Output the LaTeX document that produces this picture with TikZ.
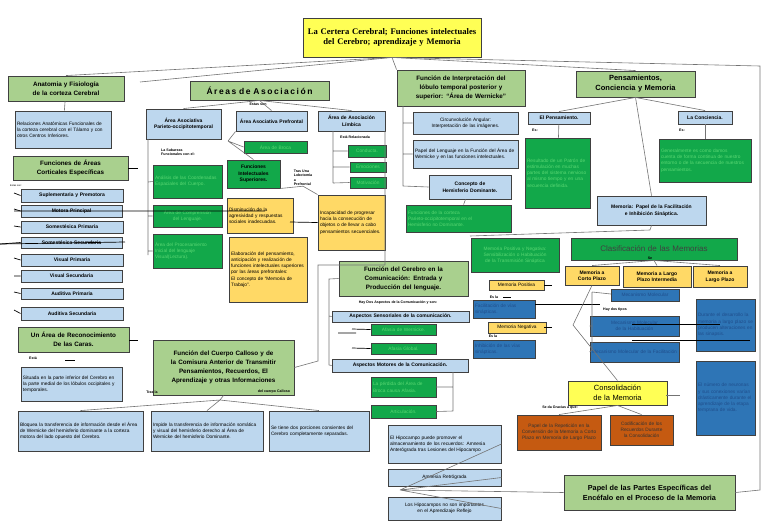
\documentclass[tikz,border=0pt]{standalone}
\usepackage{fontspec}
\setmainfont{Liberation Sans}
\newfontfamily\ttlfont{Liberation Serif}
\newfontfamily\spfont[LetterSpace=18]{Liberation Sans}
\begin{document}
\hyphenpenalty=10000 \exhyphenpenalty=10000
\definecolor{lg}{HTML}{A9D08E}
\definecolor{dg}{HTML}{12A84A}
\definecolor{tg}{HTML}{5AD873}
\definecolor{lb}{HTML}{BDD7EE}
\definecolor{yl}{HTML}{FFD966}
\definecolor{by}{HTML}{FFFF55}
\definecolor{db}{HTML}{2E75B6}
\definecolor{tb}{HTML}{1F4E8C}
\definecolor{or}{HTML}{C55A11}
\newcommand\bx[7]{\node[box,#6,minimum width={(#4-#2)*1pt},minimum height={(#5-#3)*1pt},text width={(#4-#2-4)*1pt}] (#1) at ({(#2+#4)/2},{(#3+#5)/2}) {#7};}
\begin{tikzpicture}[x=1pt,y=-1pt,
 box/.style={draw=black!75,line width=0.9pt,align=center,inner sep=1pt,font=\fontsize{4.8}{6.2}\selectfont},
 H/.style={fill=lg,font=\fontsize{6.3}{9}\selectfont\bfseries},
 G/.style={fill=dg,text=tg},
 B/.style={fill=lb},
 BB/.style={fill=lb,font=\fontsize{5}{6.5}\selectfont\bfseries},
 Y/.style={fill=yl},
 D/.style={fill=db,text=tb},
 O/.style={fill=or,text=black!80},
 L/.style={align=left},
 ln/.style={draw=black!55,line width=0.6pt},
 lab/.style={font=\fontsize{3.6}{4.5}\selectfont\bfseries,inner sep=0pt}]
\useasboundingbox (0,0) rectangle (768,523);
\bx{t}{303}{18}{481}{57}{fill=by,font=\ttlfont\fontsize{8.6}{10}\selectfont\bfseries}{La Certera Cerebral; Funciones intelectuales del Cerebro; aprendizaje y Memoria}
\bx{anat}{8}{76}{124}{101}{H}{Anatomia y Fisiología de la corteza Cerebral}
\bx{rel}{15}{111}{111}{148}{B,L}{Relaciones Anatómicas Funcionales de la corteza cerebral con el Tálamo y con otros Centros Inferiores.}
\bx{areas}{190}{81}{329}{100}{H,font=\spfont\fontsize{8.5}{10}\selectfont\bfseries}{Áreas de Asociación}
\bx{par}{146}{109}{221}{139}{BB}{Área Asociativa Parieto-occipitotemporal}
\bx{pre}{236}{111}{307}{131}{BB}{Área Asociativa Prefrontal}
\bx{lim}{318}{111}{385}{131}{BB}{Área de Asociación Límbica}
\bx{broca}{244}{141}{307}{153}{G}{Área de Broca}
\bx{cond}{348}{145}{386}{157}{G}{Conducta.}
\bx{emo}{350}{162}{386}{172}{G}{Emociones}
\bx{mot}{350}{177}{386}{188}{G}{Motivación}
\bx{cort}{13}{156}{128}{180}{H}{Funciones de Áreas Corticales Específicas}
\bx{anal}{153}{165}{222}{198}{G,L}{Análisis de las Coordenadas Espaciales del Cuerpo.}
\bx{fis}{227}{160}{280}{188}{G,font=\fontsize{5}{6.5}\selectfont\bfseries,text=black}{Funciones Intelectuales Superiores.}
\bx{comp}{153}{205}{222}{227}{G}{Área de Comprensión del Lenguaje.}
\bx{dism}{227}{198}{293}{233}{Y,L}{Disminución de la agresividad y respuestas sociales inadecuadas.}
\bx{inc}{318}{195}{385}{250}{Y,L}{Incapacidad de progresar hacia la consecución de objetos o de llevar a cabo pensamientos secuenciales.}
\bx{proc}{153}{234}{222}{268}{G,L}{Área del Procesamiento Inicial del lenguaje Visual(Lectura).}
\bx{elab}{229}{237}{307}{302}{Y,L}{Elaboración del pensamiento, anticipación y realización de funciones intelectuales superiores por las áreas prefrontales: El concepto de ``Memoria de Trabajo''.}
\bx{l1}{21}{189}{123}{202}{BB}{Suplementaria y Premotora}
\bx{l2}{21}{205}{122}{217}{BB}{Motora Principal}
\bx{l3}{21}{221}{123}{233}{BB}{Somestésica Primaria}
\bx{l4}{21}{237}{122}{248}{BB}{Somestésica Secundaria}
\bx{l5}{21}{254}{123}{266}{BB}{Visual Primaria}
\bx{l6}{21}{270}{122}{282}{BB}{Visual Secundaria}
\bx{l7}{21}{288}{123}{299}{BB}{Auditiva Primaria}
\bx{l8}{21}{307}{123}{320}{BB}{Auditiva Secundaria}
\bx{caras}{18}{327}{129}{352}{H}{Un Área de Reconocimiento De las Caras.}
\bx{sit}{21}{367}{122}{401}{B,L}{Situada en la parte inferior del Cerebro en la parte medial de los lóbulos occipitales y temporales.}
\bx{call}{153}{340}{294}{395}{H}{Función del Cuerpo Calloso y de la Comisura Anterior de Transmitir Pensamientos, Recuerdos, El Aprendizaje y otras Informaciones}
\bx{bloq}{18}{411}{143}{451}{B,L}{Bloquea la transferencia de información desde el Área de Wernicke del hemisferio dominante a la corteza motora del lado opuesto del Cerebro.}
\bx{imp}{151}{411}{263}{451}{B,L}{Impide la transferencia de información somática y visual del hemisferio derecho al Área de Wernicke del hemisferio Dominante.}
\bx{sep}{269}{411}{369}{451}{B,L}{Se tiene dos porciones consientes del Cerebro completamente separadas.}
\bx{int}{397}{70}{525}{106}{H}{Función de Interpretación del lóbulo temporal posterior y superior: ``Área de Wernicke''}
\bx{circ}{413}{112}{518}{134}{B}{Circunvolución Angular: Interpretación de las imágenes.}
\bx{pap}{413}{140}{518}{168}{B,L}{Papel del Lenguaje en la Función del Área de Wernicke y en las funciones intelectuales.}
\bx{hem}{429}{175}{511}{199}{BB}{Concepto de Hemisferio Dominante.}
\bx{fpo}{406}{205}{511}{232}{G,L}{Funciones de la corteza Parieto-occipitotemporal en el Hemisferio no Dominante.}
\bx{pens}{576}{71}{695}{97}{H,font=\fontsize{7.5}{10}\selectfont\bfseries}{Pensamientos, Conciencia y Memoria}
\bx{elp}{528}{112}{590}{124}{BB}{El Pensamiento.}
\bx{res}{525}{138}{590}{208}{G,L}{Resultado de un Patrón de estimulación en muchas partes del sistema nervioso al mismo tiempo y en una secuencia definida.}
\bx{conc}{678}{111}{732}{124}{BB}{La Conciencia.}
\bx{gen}{659}{139}{751}{182}{G,L}{Generalmente es como damos cuenta de forma continua de nuestro entorno o de la secuencia de nuestros pensamientos.}
\bx{memp}{597}{196}{706}{225}{BB}{Memoria: Papel de la Facilitación e Inhibición Sináptica.}
\bx{mpn}{471}{238}{559}{272}{G}{Memoria Positiva y Negativa: Sensibilización o Habituación de la Transmisión Sináptica}
\bx{clas}{571}{238}{737}{260}{G,text=black!75,font=\fontsize{8}{10}\selectfont}{Clasificación de las Memorias}
\bx{com}{339}{261}{468}{296}{H}{Función del Cerebro en la Comunicación: Entrada y Producción del lenguaje.}
\bx{mpos}{489}{280}{544}{290}{Y}{Memoria Positiva}
\bx{fac}{473}{300}{535}{318}{D,L}{Facilitación de vías sinápticas.}
\bx{mneg}{488}{322}{546}{333}{Y}{Memoria Negativa}
\bx{inh}{473}{340}{535}{358}{D,L}{Inhibición de las vías sinápticas.}
\bx{cp}{565}{266}{619}{285}{Y,font=\fontsize{5}{6.5}\selectfont\bfseries}{Memoria a Corto Plazo}
\bx{lpi}{623}{266}{691}{287}{Y,font=\fontsize{5}{6.5}\selectfont\bfseries}{Memoria a Largo Plazo Intermedia}
\bx{lp}{693}{266}{747}{287}{Y,font=\fontsize{5}{6.5}\selectfont\bfseries}{Memoria a Largo Plazo}
\bx{mm}{611}{289}{679}{301}{D}{Mecanismo Molecular}
\bx{mh}{590}{316}{679}{336}{D}{Mecanismo Molecular de la Habituación}
\bx{mf}{590}{342}{679}{362}{D}{Mecanismo Molecular de la Facilitación}
\bx{dur}{696}{299}{755}{351}{D,L}{Durante el desarrollo la memoria a largo plazo se producen alteraciones en las sinapsis.}
\bx{num}{696}{361}{755}{435}{D,L}{El número de neuronas y sus conexiones varían drásticamente durante el aprendizaje de la etapa temprana de vida.}
\bx{asen}{332}{311}{469}{322}{BB}{Aspectos Sensoriales de la comunicación.}
\bx{afw}{371}{324}{436}{335}{G}{Afasia de Wernicke.}
\bx{afg}{371}{343}{436}{354}{G}{Afasia Global.}
\bx{amot}{332}{359}{468}{372}{BB}{Aspectos Motores de la Comunicación.}
\bx{perd}{371}{377}{436}{397}{G,L}{La pérdida del Área de Broca causa Afasia.}
\bx{art}{371}{405}{436}{418}{G}{Articulación.}
\bx{cons}{568}{381}{667}{405}{fill=by,font=\fontsize{7.5}{10}\selectfont}{Consolidación de la Memoria}
\bx{rep}{517}{415}{601}{450}{O}{Papel de la Repetición en la Conversión de la Memoria a Corto Plazo en Memoria de Largo Plazo}
\bx{cod}{610}{415}{673}{445}{O}{Codificación de los Recuerdos Durante la Consolidación}
\bx{hipo}{388}{425}{501}{463}{B,L}{El Hipocampo puede promover el almacenamiento de los recuerdos: Amnesia Anterógrada tras Lesiones del Hipocampo}
\bx{amr}{388}{469}{501}{486}{B}{Amnesia Retrógrada}
\bx{nohi}{388}{497}{501}{520}{B}{Los Hipocampos no son importantes en el Aprendizaje Reflejo}
\bx{part}{564}{475}{735}{510}{H,font=\fontsize{7.3}{10}\selectfont\bfseries}{Papel de las Partes Específicas del Encéfalo en el Proceso de la Memoria}
% labels
\node[lab] (e1) at (258,104) {Estas son};
\node[lab,align=left] (e2) at (178,152) {La Subareas\\Funcionales con el:};
\node[lab] (e3) at (355,137) {Está Relacionada};
\node[lab,align=left] (e4) at (303,178) {Tras Una\\Lobotomía\\a\\Prefrontal};
\node[lab,font=\fontsize{2.5}{3}\selectfont] (e5) at (16,186) {Estas son:};
\node[lab] (e6) at (33,358) {Está};
\node[lab] (e7) at (152,392) {Tras la};
\node[lab] (e8) at (274,392) {del cuerpo Calloso};
\node[lab] (e9) at (398,303) {Hay Dos Aspectos de la Comunicación y son:};
\node[lab] (e10) at (535,130) {Es:};
\node[lab] (e11) at (682,130) {Es:};
\node[lab] (e12) at (494,297) {Es la};
\node[lab] (e13) at (493,336) {Es la};
\node[lab] (e14) at (650,258) {Se};
\node[lab] (e15) at (615,310) {Hay dos tipos};
\node[lab] (e16) at (560,408) {Se da Gracias a que:};
\coordinate (c2) at (760,66);
\coordinate (c3) at (760,490);
\coordinate (c4) at (400,490);
\coordinate (c5) at (220,400);
% connectors
\draw[ln] (t.south) -- (anat.north);
\draw[ln] (t.south) -- (140,82);
\draw[ln] (t.south) -- (int.north west);
\draw[ln] (t.south) -- (c2) -- (c3) -- (part.east);
\draw[ln] (t.south) -- (pens.north);
\draw[ln] (anat) -- (rel);
\draw[ln] (areas.south) -- (par.north);
\draw[ln] (areas.south) -- (pre.north);
\draw[ln] (areas.south) -- (lim.north);
\draw[ln] (148,139) -- (148,255) (148,182) -- (anal.west) (148,216) -- (comp.west) (148,251) -- (proc.west);
\draw[ln] (228,141) -- (pre.south west) (228,141) -- (broca.west) (228,141) -- (fis.north);
\draw[ln] (333,131) -- (333,183) (333,151) -- (cond.west) (333,167) -- (emo.west) (333,183) -- (mot.west);
\draw[ln] (fis.south east) -- (e4.south) -- (inc.north west);
\draw[line width=0.7pt] (290,222) -- (inc.west);
\draw[line width=0.7pt] (128,168) -- (138,168);
\draw[line width=0.7pt] (14,193) -- (l1.west) (14,209) -- (l2.west) (14,226) -- (l3.west) (0,244) -- (l4.west) (14,258) -- (l5.west) (14,276) -- (l6.west) (14,292) -- (l7.west) (14,310) -- (l8.west);
\draw[line width=0.7pt] (14,211) -- (265,211) (0,244) -- (125,242);
\draw[line width=0.7pt] (129,340) -- (138,340) (65,360) -- (75,360);
\draw[ln] (385,131) -- (385,265) (call.east) -- (318,361) -- (318,265) -- (385,265);
\draw[ln] (403,106) -- (403,186) (403,123) -- (circ.west) (403,154) -- (pap.west) (403,186) -- (hem.west);
\draw[ln] (hem) -- (fpo);
\draw[ln] (pens.south) -- (elp.north) (pens.south) -- (conc.north) (pens.south) -- (memp.north);
\draw[ln] (elp) -- (res); \draw[ln] (conc) -- (gen);
\draw[ln] (memp.south) -- (650,230) -- (470,236);
\draw[ln] (clas.south) -- (cp.north) (clas.south) -- (lpi.north) (clas.south) -- (lp.north);
\draw[ln] (com.west) -- (329,279) -- (329,365) (329,316) -- (asen.west) (329,365) -- (amot.west);
\draw[line width=0.7pt] (352,329) -- (afw.west) (338,333) -- (356,333) (352,348) -- (afg.west);
\draw[ln] (453,372) -- (453,411) (436,387) -- (453,387) (art.east) -- (453,411);
\draw[ln] (call.south) -- (c5) (c5) -- (bloq.north) (c5) -- (imp.north) (c5) -- (sep.north);
\draw[line width=0.7pt] (544,285) -- (552,285) (544,327) -- (552,327) (503,297) -- (511,297);
\draw[line width=0.7pt] (535,304) -- (600,304) (632,324) -- (720,324) (632,340) -- (750,340);
\draw[ln] (cp.south) -- (573,325) -- (cons.north) (592,292) -- (592,350) (592,326) -- (mh.west) (592,350) -- (mf.west) (611,294) -- (592,292);
\draw[ln] (666,395) -- (680,395);
\draw[ln] (cons.south) -- (rep.north) (cons.south) -- (cod.north);
\draw[ln] (part.west) -- (c4) (c4) -- (hipo.east) (c4) -- (amr.east) (c4) -- (nohi.east);
\end{tikzpicture}
\end{document}
